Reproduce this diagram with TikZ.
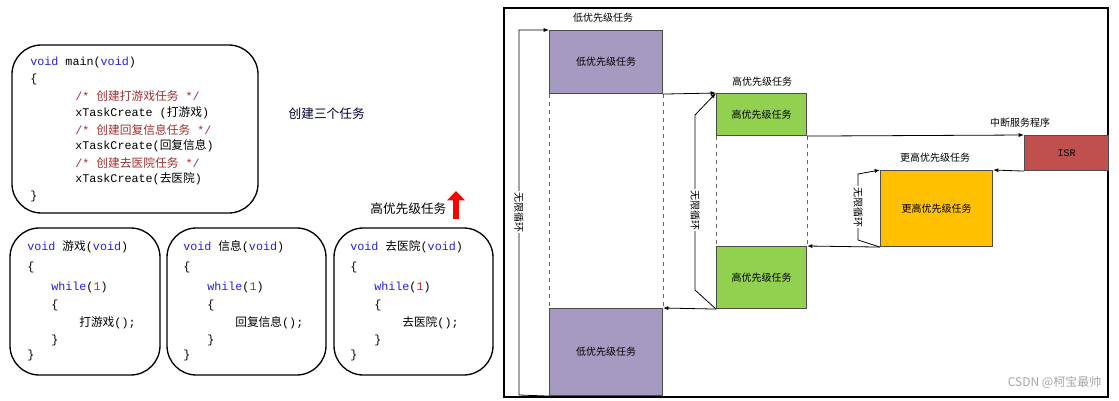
\documentclass[tikz,border=0pt]{standalone}
\usepackage{fontspec}
\setmainfont{Noto Sans CJK SC}
\setmonofont{Liberation Mono}
\newfontfamily\zhf{Noto Sans CJK SC}
\newcommand{\zh}[1]{{\zhf #1}}
\usetikzlibrary{arrows.meta}
\definecolor{kw}{HTML}{2020E0}
\definecolor{cm}{HTML}{A03030}
\definecolor{nm}{HTML}{E02020}
\definecolor{pur}{HTML}{A79AC1}
\definecolor{grn}{HTML}{92D050}
\definecolor{org}{HTML}{FFC000}
\definecolor{isr}{HTML}{C0504D}
\newcommand{\kw}[1]{\textcolor{kw}{#1}}
\begin{document}
\begin{tikzpicture}[x=0.75pt,y=-0.75pt,
  codebox/.style={draw,line width=1pt,rounded corners=22},
  code/.style={anchor=west,inner sep=0,font=\ttfamily\fontsize{8.8}{10}\selectfont},
  task/.style={draw=black!70,line width=0.8pt,font=\fontsize{7.5}{9}\selectfont,inner sep=0},
  lbl/.style={font=\fontsize{7.5}{9}\selectfont,inner sep=1pt},
  arr/.style={-{Latex[length=4pt,width=3pt]},line width=0.6pt},
  dsh/.style={dashed,black!60,line width=0.5pt}]
\useasboundingbox (0,0) rectangle (1119,400);
% left code boxes
\draw[codebox] (12,45) rectangle (258,213);
\node[code] (m1) at (30,62) {\kw{void} main(\kw{void})};
\node[code] (m2) at (30,79) {\{};
\node[code,text=cm] (m3) at (75,96) {/* \zh{创建打游戏任务} */};
\node[code] (m4) at (75,113) {xTaskCreate (\zh{打游戏})};
\node[code,text=cm] (m5) at (75,130) {/* \zh{创建回复信息任务} */};
\node[code] (m6) at (75,146) {xTaskCreate(\zh{回复信息})};
\node[code,text=cm] (m7) at (75,163) {/* \zh{创建去医院任务} */};
\node[code] (m8) at (75,179) {xTaskCreate(\zh{去医院})};
\node[code] (m9) at (30,196) {\}};
\node[font=\fontsize{9.5}{11}\selectfont,text=black!80!blue,anchor=west] (t3) at (284,114) {创建三个任务};
\node[font=\fontsize{9.5}{11}\selectfont,anchor=east,inner sep=1pt] (hp) at (448,209) {高优先级任务};
\coordinate (ua) at (456,219);
\coordinate (ub) at (456,191);
\draw[-{Triangle[length=7pt,width=13pt]},line width=5pt,red,draw=red] (ua) -- (ub);
\draw[codebox] (10,228) rectangle (160,375);
\draw[codebox] (167,228) rectangle (326,375);
\draw[codebox] (334,228) rectangle (493,375);
\foreach \x/\n/\fn/\call in {27/a/游戏/打游戏,183/b/信息/回复信息,350/c/去医院/去医院}{
  \node[code] (\n1) at (\x,247) {\kw{void} \zh{\fn}(\kw{void})};
  \node[code] (\n2) at (\x,267) {\{};
  \node[code] (\n3) at (\x+24,287) {\kw{while}(\textcolor{nm}{1})};
  \node[code] (\n4) at (\x+24,305) {\{};
  \node[code] (\n5) at (\x+52,323) {\zh{\call}();};
  \node[code] (\n6) at (\x+24,340) {\}};
  \node[code] (\n7) at (\x,355) {\}};
}
% right panel
\draw[line width=0.8pt] (504,8) rectangle (1108,397);
\node[task,fill=pur,minimum width=113*0.75pt,minimum height=63*0.75pt,anchor=north west] (L1) at (549,30) {低优先级任务};
\node[task,fill=grn,minimum width=90*0.75pt,minimum height=42*0.75pt,anchor=north west] (H1) at (716,93) {高优先级任务};
\node[task,fill=isr,minimum width=84*0.75pt,minimum height=35*0.75pt,anchor=north west,font=\ttfamily\fontsize{7.5}{9}\selectfont] (I) at (1024,135) {ISR};
\node[task,fill=org,minimum width=112*0.75pt,minimum height=76*0.75pt,anchor=north west] (O) at (880,170) {更高优先级任务};
\node[task,fill=grn,minimum width=90*0.75pt,minimum height=62*0.75pt,anchor=north west] (H2) at (716,246) {高优先级任务};
\node[task,fill=pur,minimum width=113*0.75pt,minimum height=87*0.75pt,anchor=north west] (L2) at (549,308) {低优先级任务};
\node[lbl] (lL) at (603,18) {低优先级任务};
\node[lbl] (lH) at (762,82) {高优先级任务};
\node[lbl] (lI) at (1020,123) {中断服务程序};
\node[lbl] (lO) at (935,158) {更高优先级任务};
% dashed
\draw[dsh] (L1.south west) -- (L2.north west);
\draw[dsh] (L1.south east) -- (L2.north east);
\draw[dsh] (H1.south west) -- (H2.north west);
\draw[dsh] (H1.south east) -- (H2.north east);
% arrows
\draw[arr] (L1.south east) -- (H1.north west);
\draw[arr] (H1.south east) -- (I.north west);
\draw[arr] (I.south west) -- (O.north east);
\draw[arr] (O.south west) -- (H2.north east);
\draw[arr] (H2.south west) -- (L2.north east);
% loops
\coordinate (p1) at (519,395); \coordinate (p2) at (519,30);
\draw[arr] (L2.south west) -- (p1) -- (p2) -- (L1.north west);
\node[lbl,rotate=-90,fill=white] (n1) at (519,212) {无限循环};
\coordinate (q1) at (695,290); \coordinate (q2) at (695,115);
\draw[arr] (H2.south west) -- (q1) -- (q2) -- (H1.north west);
\node[lbl,rotate=-90,fill=white] (n2) at (695,210) {无限循环};
\coordinate (r1) at (858,240); \coordinate (r2) at (858,174);
\draw[arr] (O.south west) -- (r1) -- (r2) -- (O.north west);
\node[lbl,rotate=-90,fill=white] (n3) at (858,207) {无限循环};
\node[font=\fontsize{9}{11}\selectfont,text=black!35,anchor=east] (wm) at (1106,382) {CSDN @柯宝最帅};
\end{tikzpicture}
\end{document}
